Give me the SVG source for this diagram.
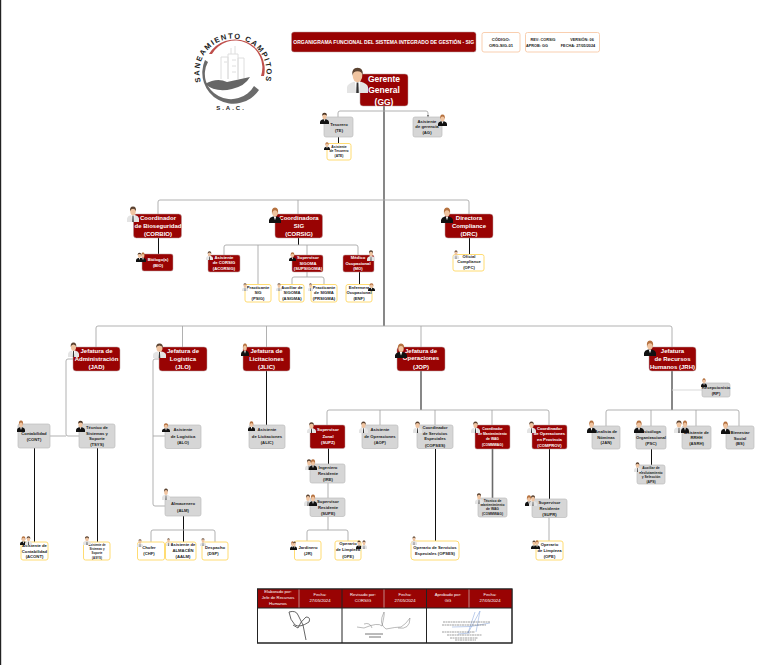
<svg xmlns="http://www.w3.org/2000/svg" width="768" height="665" viewBox="0 0 768 665">
<style>
text{font-family:"Liberation Sans",Arial,sans-serif;font-weight:700;text-anchor:middle;fill:#222}
.w{fill:#fff}
.n{font-weight:400;font-size:4.200px}
.f8{font-size:8.5px}.f6{font-size:6px}.f5{font-size:4.8px}.f4{font-size:4.2px}.f3{font-size:3.4px}
.r{fill:#990303;stroke:#b9a0a0;stroke-width:.5}
.g{fill:#d6d6d6;stroke:#bdbdbd;stroke-width:.7}
.y{fill:#fff;stroke:#ffdc73;stroke-width:1}
.o{fill:#fff;stroke:#f9cfb0;stroke-width:1}
#connectors path{fill:none}
.l{stroke:#a8a8a8;stroke-width:.9}
.k{stroke:#111;stroke-width:1}
.h{stroke:#6a6a6a;stroke-width:1.6}
.sig{fill:none;stroke:#777;stroke-width:.5}
</style>
<defs>
<marker id="a" markerUnits="userSpaceOnUse" markerWidth="3" markerHeight="3" refX="2.5" refY="1.5" orient="auto"><path d="M0 0L3 1.5L0 3Z" fill="#777"/></marker>
<symbol id="m" viewBox="0 0 24 30" preserveAspectRatio="none">
<path d="M0 30V23Q1 19 8 17H16Q23 19 24 23V30Z" fill="#e4e4e4"/>
<path d="M9 17H15L13.5 30H10.5Z" fill="#fff"/><path d="M11 18H13L13.5 30H10.5Z" fill="#333"/>
<ellipse cx="12" cy="10" rx="5.5" ry="7.5" fill="#f0c4a0"/>
<path d="M6 10Q5 1 12 1Q19 1 18 10Q17 5 12 5Q7 5 6 10Z" fill="#5b4230"/>
</symbol>
<symbol id="w" viewBox="0 0 24 30" preserveAspectRatio="none">
<path d="M0 30V24Q1 20 8 18H16Q23 20 24 24V30Z" fill="#111"/>
<path d="M9.500 18H14.500L12 25Z" fill="#fff"/>
<ellipse cx="12" cy="11" rx="5.500" ry="7" fill="#f0c4a0"/>
<path d="M6 14Q4 1 12 1Q20 1 18 14Q17 6 12 6Q7 6 6 14Z" fill="#b5713f"/>
</symbol>
<symbol id="b" viewBox="0 0 24 30" preserveAspectRatio="none">
<path d="M0 30V24Q1 20 8 18H16Q23 20 24 24V30Z" fill="#111"/>
<path d="M10 18H14L12 24Z" fill="#fff"/>
<ellipse cx="12" cy="11" rx="5.500" ry="7" fill="#f0c4a0"/>
<path d="M6 10Q5 2 12 2Q19 2 18 10Q17 6 12 6Q7 6 6 10Z" fill="#4a3322"/>
</symbol>
<path id="arcText" d="M201.700 84A33.500 33.500 0 1 1 264.300 84"/>
</defs>
<rect width="768" height="665" fill="#fff"/>
<rect x="0" y="0" width="1.200" height="665" fill="#222"/>

<g id="logo">
<path d="M209 54A30 30 0 0 1 264 76L261 76A27 27 0 0 0 212 54Z" fill="#bf4f4c"/>
<path d="M205 60A31 31 0 0 0 259 90L254 86A26 25 0 0 1 208 62Z" fill="#6b6b6b"/>
<g fill="none" stroke="#dedede" stroke-width="1"><path d="M221 79V57H228V79M228 79V54H238V79M238 79V58H244V79M231 54V48M235 54V46M224 62H227M232 60H236M232 66H236M232 72H236"/></g>
<path d="M205 84Q217 77 227 82L250 77Q245 86 232 89Q216 93 205 84Z" fill="#666"/>
<text font-size="7.500" letter-spacing="1.400" fill="#111"><textPath href="#arcText" startOffset="50%">SANEAMIENTO CAMPITOS</textPath></text>
<text x="231" y="110" font-size="6" letter-spacing="2">S.A.C.</text>
</g>

<g id="header">
<rect class="r" x="291.500" y="32" width="184.500" height="20" rx="2.500"/>
<text class="w" x="383.700" y="43.800" font-size="5">ORGANIGRAMA FUNCIONAL DEL SISTEMA INTEGRADO DE GESTIÓN - SIG</text>
<rect class="o" x="482" y="32.500" width="38" height="19.500" rx="2"/>
<text class="f4" x="501" y="40.500">CÓDIGO:</text><text class="f4" x="501" y="47">ORG-SIG-01</text>
<rect class="o" x="525.500" y="32.500" width="74" height="19.500" rx="2"/>
<g style="font-size:3.800px"><text x="543" y="40.500">REV: CORSIG</text><text x="582" y="40.500">VERSIÓN: 06</text>
<text x="537" y="47">APROB: GG</text><text x="578" y="47">FECHA: 27/05/2024</text></g>
</g>

<g id="connectors">
<path class="h" d="M384 106V326"/>
<path class="l" d="M338 117V113Q338 111 340 111H426Q428 111 428 113V117" marker-end="url(#a)"/>
<path class="k" d="M338.500 137V143"/>
<path class="l" d="M158 214V202Q158 200 160 200H467Q469 200 469 202V214"/>
<path class="l" d="M298 200V214"/>
<path class="k" d="M158.500 238V254M469.500 238V254M359.500 272V284M298.500 238V245"/>
<path class="l" d="M224 255V247Q224 245 226 245H356Q358 245 358 247V255M258 245V284M307 245V255M307 272V277M292 284V279Q292 277 294 277H322Q324 277 324 279V284"/>
<path class="l" d="M96 347V328Q96 326 98 326H670Q672 326 672 328V347M182.500 326V347M266.500 326V347M421 326V347"/>
<path class="l" d="M73 359H68Q66 359 66 361V434Q66 436 68 436H79M66 436H50"/>
<path class="k" d="M34.500 448V542M97.500 448V542M266.500 371V425"/>
<path class="l" d="M159 359H155Q153 359 153 361V504Q153 506 155 506H165M153 436H165"/>
<path class="k" d="M183.500 516V542"/>
<path class="l" d="M151 542V532Q151 530 153 530H213Q215 530 215 532V542"/>
<path class="h" d="M421 371V410"/>
<path class="l" d="M327 425V412Q327 410 329 410H547Q549 410 549 412V425M380 410V425M435 410V425M492 410V425"/>
<path class="k" d="M328.500 448V464M435.500 449V541M549.500 449V499"/>
<path class="l" d="M328 483V498M328 516V530M307 541V532Q307 530 309 530H346Q348 530 348 532V541M549 517V541"/>
<path class="h" d="M492.500 449V498M672 371V410"/>
<path class="l" d="M606 426V412Q606 410 608 410H737Q739 410 739 412V426M651 410V426M696 410V426"/>
<path class="l" d="M672 390H702" style="stroke:#d5d5d5"/>
<path class="k" d="M651.500 449V465"/>
</g>

<g id="n-gg"><rect class="r" x="360" y="74" width="48" height="32" rx="3"/><text class="w f8"><tspan x="384" y="81.500">Gerente</tspan><tspan x="384" y="93">General</tspan><tspan x="384" y="105">(GG)</tspan></text><use href="#m" x="347" y="67" width="21" height="26"/></g>
<g id="n-te"><rect class="g" x="324" y="117" width="29" height="20" rx="2"/><text class="f4"><tspan x="339" y="126">Tesorero</tspan><tspan x="339" y="132">(TE)</tspan></text><use href="#b" x="320" y="112" width="9" height="12"/></g>
<g id="n-ag"><rect class="g" x="413" y="117" width="29" height="20" rx="2"/><text class="f4"><tspan x="427" y="123">Asistente</tspan><tspan x="427" y="128">de gerencia</tspan><tspan x="427" y="134">(AG)</tspan></text><use href="#w" x="438" y="114" width="9" height="12"/></g>
<g id="n-ate"><rect class="y" x="327" y="143.500" width="24" height="16.500" rx="2"/><text class="f3"><tspan x="339" y="147.500">Asistente</tspan><tspan x="339" y="152">de Tesorero</tspan><tspan x="339" y="157">(ATE)</tspan></text><use href="#w" x="324" y="142" width="6" height="8"/></g>

<g id="n-corbio"><rect class="r" x="133.500" y="214" width="48" height="24" rx="3"/><text class="w f6"><tspan x="158" y="220">Coordinador</tspan><tspan x="158" y="227.500">de Bioseguridad</tspan><tspan x="158" y="235.500">(CORBIO)</tspan></text><use href="#m" x="127" y="206" width="12" height="16"/></g>
<g id="n-corsig"><rect class="r" x="275" y="214" width="47.500" height="24" rx="3"/><text class="w f6"><tspan x="299" y="220">Coordinadora</tspan><tspan x="299" y="227.500">SIG</tspan><tspan x="299" y="235.500">(CORSIG)</tspan></text><use href="#w" x="269" y="207" width="12" height="16"/></g>
<g id="n-drc"><rect class="r" x="445" y="214" width="48" height="24" rx="3"/><text class="w f6"><tspan x="469" y="220">Directora</tspan><tspan x="469" y="227.500">Compliance</tspan><tspan x="469" y="235.500">(DRC)</tspan></text><use href="#w" x="441" y="207" width="12" height="16"/></g>
<g id="n-bio"><rect class="r" x="142" y="254" width="31" height="17" rx="2"/><text class="w f4"><tspan x="158" y="261">Biólogo(a)</tspan><tspan x="158" y="266.500">(BIO)</tspan></text><use href="#b" x="136" y="252" width="7" height="10"/><use href="#w" x="140" y="252" width="6" height="10"/></g>
<g id="n-acorsig"><rect class="r" x="208" y="255" width="32" height="17" rx="2"/><text class="w f4"><tspan x="224" y="258.500">Asistente</tspan><tspan x="224" y="264">de CORSIG</tspan><tspan x="224" y="270">(ACORSIG)</tspan></text><use href="#m" x="206" y="251" width="7" height="9"/></g>
<g id="n-sup"><rect class="r" x="292" y="255" width="31" height="17" rx="2"/><text class="w f4"><tspan x="308" y="259">Supervisor</tspan><tspan x="308" y="264.500">SIGOMA</tspan><tspan x="308" y="270">(SUPSIGOMA)</tspan></text><use href="#w" x="289" y="252" width="7" height="9"/></g>
<g id="n-mo"><rect class="r" x="343" y="255" width="31" height="17" rx="2"/><text class="w f4"><tspan x="358" y="259">Médico</tspan><tspan x="358" y="264.500">Ocupacional</tspan><tspan x="358" y="270">(MO)</tspan></text><use href="#m" x="367" y="250" width="8" height="11"/></g>
<g id="n-psig"><rect class="y" x="245" y="284.500" width="26" height="17.500" rx="2"/><text class="f4"><tspan x="258" y="288.500">Practicante</tspan><tspan x="258" y="293.500">SIG</tspan><tspan x="258" y="299.500">(PSIG)</tspan></text><use href="#m" x="242" y="283" width="6" height="8"/></g>
<g id="n-asig"><rect class="y" x="279" y="284.500" width="25" height="17.500" rx="2"/><text class="f4"><tspan x="292" y="288.500">Auxiliar de</tspan><tspan x="292" y="293.500">SIGOMA</tspan><tspan x="292" y="299.500">(ASIGMA)</tspan></text><use href="#m" x="276" y="283" width="6" height="8"/></g>
<g id="n-prsig"><rect class="y" x="311" y="284.500" width="26" height="17.500" rx="2"/><text class="f4"><tspan x="324" y="288.500">Practicante</tspan><tspan x="324" y="293.500">de SIGMA</tspan><tspan x="324" y="299.500">(PRSIGMA)</tspan></text><use href="#m" x="308" y="283" width="5" height="8"/></g>
<g id="n-enf"><rect class="y" x="346" y="284.500" width="26" height="17.500" rx="2"/><text class="f4"><tspan x="359" y="288.500">Enfermera</tspan><tspan x="359" y="293.500">Ocupacional</tspan><tspan x="359" y="299.500">(ENF)</tspan></text><use href="#w" x="368" y="283" width="7" height="8"/></g>
<g id="n-ofc"><rect class="y" x="453" y="254.500" width="31" height="16.500" rx="2"/><text class="f4"><tspan x="469" y="258">Oficial</tspan><tspan x="469" y="263">Compliance</tspan><tspan x="469" y="269">(OFC)</tspan></text><use href="#m" x="453" y="250" width="6" height="9"/></g>

<g id="n-jad"><rect class="r" x="73" y="347" width="47" height="24" rx="3"/><text class="w f6"><tspan x="96.500" y="352.500">Jefatura de</tspan><tspan x="96.500" y="360.500">Administración</tspan><tspan x="96.500" y="368.500">(JAD)</tspan></text><use href="#m" x="68" y="342" width="11" height="15"/></g>
<g id="n-jlo"><rect class="r" x="159" y="347" width="48" height="24" rx="3"/><text class="w f6"><tspan x="183" y="352.500">Jefatura de</tspan><tspan x="183" y="360.500">Logística</tspan><tspan x="183" y="368.500">(JLO)</tspan></text><use href="#m" x="153" y="343" width="13" height="15"/></g>
<g id="n-jlic"><rect class="r" x="243" y="347" width="47" height="24" rx="3"/><text class="w f6"><tspan x="266.500" y="352.500">Jefatura de</tspan><tspan x="266.500" y="360.500">Licitaciones</tspan><tspan x="266.500" y="368.500">(JLIC)</tspan></text><use href="#w" x="241" y="343" width="8" height="13"/></g>
<g id="n-jop"><rect class="r" x="397" y="347" width="48" height="24" rx="3"/><text class="w f6"><tspan x="421" y="352.500">Jefatura de</tspan><tspan x="421" y="360">Operaciones</tspan><tspan x="421" y="368.500">(JOP)</tspan></text><use href="#w" x="395" y="343" width="12" height="15"/></g>
<g id="n-jrh"><rect class="r" x="649" y="347" width="47" height="24" rx="3"/><text class="w f6"><tspan x="672.500" y="352.500">Jefatura</tspan><tspan x="672.500" y="360.500">de Recursos</tspan><tspan x="672.500" y="368.500">Humanos (JRH)</tspan></text><use href="#w" x="644" y="340" width="12" height="16"/></g>

<g id="n-cont"><rect class="g" x="18" y="424" width="32" height="24" rx="2"/><text class="f4"><tspan x="34" y="435">Contabilidad</tspan><tspan x="34" y="440.500">(CONT)</tspan></text><use href="#w" x="17" y="420" width="8" height="12"/></g>
<g id="n-tsys"><rect class="g" x="79" y="424" width="36" height="24" rx="2"/><text class="f4"><tspan x="97" y="429">Técnico de</tspan><tspan x="97" y="434.500">Sistemas y</tspan><tspan x="97" y="440">Soporte</tspan><tspan x="97" y="446">(TSYS)</tspan></text><use href="#b" x="76" y="420" width="9" height="12"/></g>
<g id="n-alo"><rect class="g" x="165" y="425" width="36" height="23.500" rx="2"/><text class="f4"><tspan x="183" y="431">Asistente</tspan><tspan x="183" y="437.500">de Logística</tspan><tspan x="183" y="444">(ALO)</tspan></text><use href="#w" x="162" y="423" width="8" height="9"/></g>
<g id="n-alic"><rect class="g" x="249" y="425" width="36" height="23.500" rx="2"/><text class="f4"><tspan x="267" y="431">Asistente</tspan><tspan x="267" y="437.500">de Licitaciones</tspan><tspan x="267" y="444">(ALIC)</tspan></text><use href="#w" x="248" y="421" width="7" height="10"/></g>
<g id="n-alm"><rect class="g" x="165" y="497" width="36" height="19" rx="2"/><text class="f4"><tspan x="183" y="505">Almacenero</tspan><tspan x="183" y="511.500">(ALM)</tspan></text><use href="#m" x="162" y="488" width="8" height="12"/></g>
<g id="n-acont"><rect class="y" x="21" y="542" width="27" height="18" rx="2"/><text class="f4"><tspan x="34.500" y="547">Asistente de</tspan><tspan x="34.500" y="552.500">Contabilidad</tspan><tspan x="34.500" y="558">(ACONT)</tspan></text><use href="#w" x="20" y="536" width="7" height="9"/><use href="#m" x="25" y="536" width="7" height="9"/></g>
<g id="n-asys"><rect class="y" x="83.500" y="542" width="26.500" height="18" rx="2"/><text style="font-size:2.900px"><tspan x="97" y="546">Asistente de</tspan><tspan x="97" y="550">Sistemas y</tspan><tspan x="97" y="554">Soporte</tspan><tspan x="97" y="558.500">(ASYS)</tspan></text><use href="#m" x="83" y="536" width="8" height="9"/></g>
<g id="n-chf"><rect class="y" x="137.500" y="542" width="27" height="18" rx="2"/><text class="f4"><tspan x="149" y="549">Chofer</tspan><tspan x="149" y="555">(CHF)</tspan></text><use href="#m" x="137" y="539" width="6" height="8"/></g>
<g id="n-aalm"><rect class="y" x="165.500" y="542" width="30.500" height="18" rx="2"/><text class="f4"><tspan x="183" y="546">Asistente de</tspan><tspan x="183" y="551.500">ALMACÉN</tspan><tspan x="183" y="558">(AALM)</tspan></text><use href="#m" x="166" y="538" width="5" height="8"/></g>
<g id="n-dsp"><rect class="y" x="202" y="542" width="26" height="18" rx="2"/><text class="f4"><tspan x="215" y="549">Despacho</tspan><tspan x="213" y="555">(DSP)</tspan></text><use href="#m" x="200" y="538" width="6" height="8"/></g>

<g id="n-supz"><rect class="r" x="310" y="425" width="35" height="23.500" rx="2"/><text class="w f4"><tspan x="328" y="431">Supervisor</tspan><tspan x="328" y="437.500">Zonal</tspan><tspan x="328" y="443.500">(SUPZ)</tspan></text><use href="#m" x="307" y="422" width="9" height="11"/></g>
<g id="n-aop"><rect class="g" x="362" y="425" width="36" height="23.500" rx="2"/><text class="f4"><tspan x="380" y="431">Asistente</tspan><tspan x="380" y="437.500">de Operaciones</tspan><tspan x="380" y="444">(AOP)</tspan></text><use href="#m" x="359" y="421" width="9" height="12"/></g>
<g id="n-comses"><rect class="g" x="417" y="425" width="36" height="23.500" rx="2"/><text class="f4"><tspan x="435" y="429">Coordinador</tspan><tspan x="435" y="434.500">de Servicios</tspan><tspan x="435" y="440">Especiales</tspan><tspan x="435" y="446.500">(COPSES)</tspan></text><use href="#m" x="413" y="421" width="9" height="12"/></g>
<g id="n-comm"><rect class="r" x="475" y="425" width="35" height="24" rx="2"/><text class="w f3"><tspan x="492.500" y="430">Coordinador</tspan><tspan x="492.500" y="435">de Mantenimiento</tspan><tspan x="492.500" y="440">de WAG</tspan><tspan x="492.500" y="445.500">(COMMWAG)</tspan></text><use href="#m" x="471" y="421" width="9" height="12"/></g>
<g id="n-comp"><rect class="r" x="532" y="425" width="35" height="24" rx="2"/><text class="w f4"><tspan x="549.500" y="429.500">Coordinador</tspan><tspan x="549.500" y="435">de Operaciones</tspan><tspan x="549.500" y="441">en Provincia</tspan><tspan x="549.500" y="447">(COMPROV)</tspan></text><use href="#m" x="527" y="421" width="9" height="12"/></g>
<g id="n-ire"><rect class="g" x="310" y="464" width="35" height="19" rx="2"/><text class="f4"><tspan x="328" y="469">Ingeniero</tspan><tspan x="328" y="474.500">Residente</tspan><tspan x="328" y="480.500">(IRE)</tspan></text><use href="#m" x="305" y="459" width="8" height="11"/><use href="#w" x="309" y="459" width="8" height="11"/></g>
<g id="n-supe"><rect class="g" x="310" y="498" width="35" height="18.500" rx="2"/><text class="f4"><tspan x="328" y="503">Supervisor</tspan><tspan x="328" y="508.500">Residente</tspan><tspan x="328" y="514.500">(SUPE)</tspan></text><use href="#m" x="304" y="494" width="8" height="12"/><use href="#w" x="309" y="494" width="8" height="12"/></g>
<g id="n-jr"><rect class="y" x="294.500" y="541" width="26.500" height="19" rx="2"/><text class="f4"><tspan x="308" y="549">Jardinero</tspan><tspan x="308" y="554.500">(JR)</tspan></text><use href="#w" x="290" y="541" width="5" height="9"/><use href="#b" x="292" y="541" width="5" height="9"/></g>
<g id="n-ope"><rect class="y" x="335" y="541" width="26" height="19" rx="2"/><text class="f4"><tspan x="348" y="545">Operario</tspan><tspan x="348" y="551">de Limpieza</tspan><tspan x="348" y="557.500">(OPE)</tspan></text><use href="#b" x="356" y="540" width="6" height="9"/><use href="#m" x="361" y="540" width="6" height="9"/></g>
<g id="n-opses"><rect class="y" x="411" y="541" width="48" height="19" rx="3"/><text class="f4"><tspan x="435" y="549">Operario de Servicios</tspan><tspan x="435" y="555">Especiales (OPSES)</tspan></text><use href="#m" x="411" y="536" width="6" height="9"/></g>
<g id="n-tm"><rect class="g" x="478" y="498" width="29" height="19" rx="2"/><text class="f3"><tspan x="492.500" y="501.500">Técnico de</tspan><tspan x="492.500" y="505.500">Mantenimiento</tspan><tspan x="492.500" y="510">de WAG</tspan><tspan x="492.500" y="514.500">(COMMWAG)</tspan></text><use href="#m" x="475" y="493" width="8" height="11"/></g>
<g id="n-supr"><rect class="g" x="532" y="499" width="35" height="18.500" rx="2"/><text class="f4"><tspan x="549.500" y="504">Supervisor</tspan><tspan x="549.500" y="509.500">Residente</tspan><tspan x="549.500" y="515.500">(SUPR)</tspan></text><use href="#w" x="525" y="495" width="8" height="11"/><use href="#m" x="529" y="495" width="8" height="11"/></g>
<g id="n-ope2"><rect class="y" x="536" y="541" width="27" height="19" rx="2"/><text class="f4"><tspan x="549.500" y="545.500">Operario</tspan><tspan x="549.500" y="551.500">de Limpieza</tspan><tspan x="549.500" y="557.500">(OPE)</tspan></text><use href="#b" x="531" y="540" width="6" height="9"/><use href="#w" x="534" y="540" width="6" height="9"/></g>

<g id="n-rp"><rect class="g" x="702" y="383" width="28" height="14" rx="2"/><text class="f4"><tspan x="716" y="389">Recepcionista</tspan><tspan x="716" y="394.500">(RP)</tspan></text><use href="#w" x="701" y="378" width="6" height="9"/></g>
<g id="n-jan"><rect class="g" x="592" y="426" width="28" height="23" rx="2"/><text class="f4"><tspan x="606" y="433">Analista de</tspan><tspan x="606" y="438.500">Nóminas</tspan><tspan x="606" y="444">(JAN)</tspan></text><use href="#w" x="587" y="420" width="9" height="13"/></g>
<g id="n-psc"><rect class="g" x="636" y="426" width="30" height="23" rx="2"/><text class="f4"><tspan x="651" y="433">Psicóloga</tspan><tspan x="651" y="438.500">Organizacional</tspan><tspan x="651" y="444.500">(PSC)</tspan></text><use href="#w" x="634" y="420" width="10" height="13"/></g>
<g id="n-asrh"><rect class="g" x="682" y="426" width="29" height="23" rx="2"/><text class="f4"><tspan x="696.500" y="433.500">Asistente de</tspan><tspan x="696.500" y="439">RRHH</tspan><tspan x="696.500" y="444.500">(ASRH)</tspan></text><use href="#m" x="674" y="420" width="10" height="13"/><use href="#w" x="681" y="420" width="8" height="13"/></g>
<g id="n-bs"><rect class="g" x="726" y="426" width="28" height="23" rx="2"/><text class="f4"><tspan x="740" y="434">Bienestar</tspan><tspan x="740" y="439.500">Social</tspan><tspan x="740" y="445">(BS)</tspan></text><use href="#w" x="721" y="421" width="9" height="13"/></g>
<g id="n-aps"><rect class="g" x="637" y="465" width="28" height="19" rx="2"/><text class="f3"><tspan x="651" y="469">Auxiliar de</tspan><tspan x="651" y="473.500">Reclutamiento</tspan><tspan x="651" y="478">y Selección</tspan><tspan x="651" y="482.500">(APS)</tspan></text><use href="#m" x="634" y="462" width="7" height="10"/></g>

<g id="signoff">
<rect x="257.500" y="589" width="254.500" height="54" fill="#fff" stroke="#222" stroke-width="1"/>
<rect x="257.500" y="589" width="254.500" height="19" fill="#990303"/>
<path d="M299 589V608M384 589V608M469 589V608" stroke="#ddd" stroke-width=".6"/>
<path d="M342 589V643M426.500 589V643M257.500 608H512" stroke="#222" stroke-width="1"/>
<rect x="257.500" y="589" width="254.500" height="54" fill="none" stroke="#222" stroke-width="1"/>
<text class="w n"><tspan x="278" y="593">Elaborado por:</tspan><tspan x="278" y="599">Jefe de Recursos</tspan><tspan x="278" y="605">Humanos</tspan></text>
<text class="w n"><tspan x="320" y="596">Fecha:</tspan><tspan x="320" y="602">27/05/2024</tspan></text>
<text class="w n"><tspan x="363" y="596">Revisado por:</tspan><tspan x="363" y="602">CORSIG</tspan></text>
<text class="w n"><tspan x="405" y="596">Fecha:</tspan><tspan x="405" y="602">27/05/2024</tspan></text>
<text class="w n"><tspan x="448" y="596">Aprobado por:</tspan><tspan x="448" y="602">GG</tspan></text>
<text class="w n"><tspan x="490" y="596">Fecha:</tspan><tspan x="490" y="602">27/05/2024</tspan></text>
<g id="signatures">
<path class="sig" style="stroke:#555;stroke-width:.9" d="M289 612Q296 610 298 615L303 625L306 640M289 612Q290 620 295 625Q300 628 309 622Q311 617 306 617Q300 622 298 628L293 625"/>
<path class="sig" d="M357 627L364 628Q378 622 382 626Q385 613 384 612Q378 624 386 629Q396 627 401 627Q406 624 410 618Q410 630 398 628M364 624Q370 622 372 628"/>
<path d="M365 634H383M369 637H381" stroke="#666" stroke-width=".9"/>
<path class="sig" style="stroke:#7f9fd8" d="M475 612L468 633L480 611L476 632M452 627Q470 628 490 623M458 634L470 633"/>
<path d="M443 622H490M442 625H486M442 632H475M447 635H482M450 638H478M455 640H476" stroke="#777" stroke-width=".7" stroke-dasharray="2 .5"/>
</g>
</g>
</svg>
